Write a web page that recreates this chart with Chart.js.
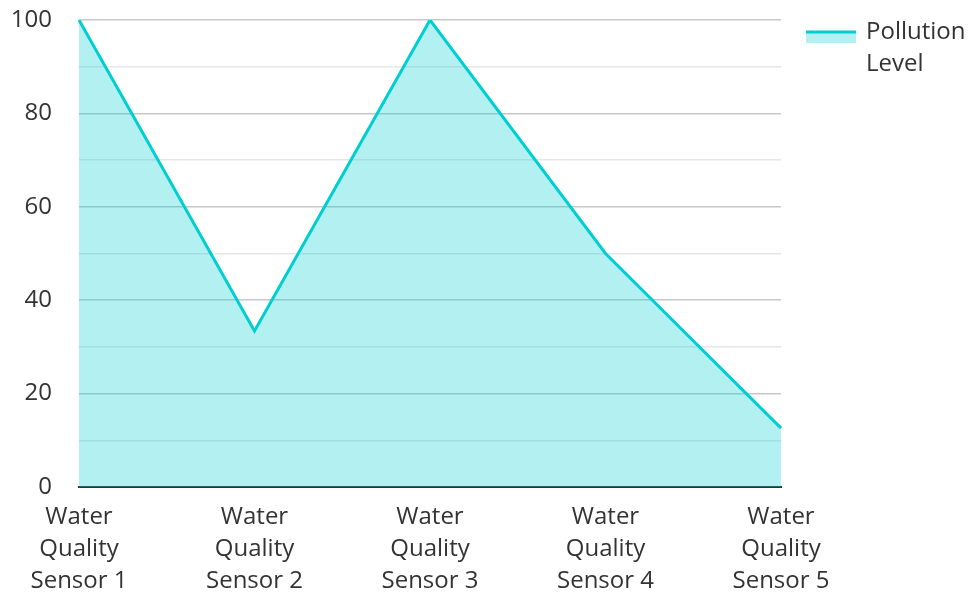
<!DOCTYPE html>
<html>
<head>
<meta charset="utf-8">
<script src="https://cdn.jsdelivr.net/npm/chart.js@4/dist/chart.umd.min.js"></script>
<style>
  html, body { margin: 0; padding: 0; background: #fff; }
  #wrap { width: 971px; height: 592px; position: relative; }
</style>
</head>
<body>
<div id="wrap"><canvas id="c"></canvas></div>
<script>
// Sensor readings
const categories = [
  ['Water', 'Quality', 'Sensor 1'],
  ['Water', 'Quality', 'Sensor 2'],
  ['Water', 'Quality', 'Sensor 3'],
  ['Water', 'Quality', 'Sensor 4'],
  ['Water', 'Quality', 'Sensor 5']
];
const seriesName = ['Pollution', 'Level'];
const pollutionLevel = [100, 33.4, 100, 50, 12.6];
const yTicks = [0, 20, 40, 60, 80, 100];

const LINE = '#00ced1';
const FILL = 'rgba(0, 206, 209, 0.3)';
const TEXT = '#333333';
const FONT = { family: '"Open Sans", sans-serif', size: 24, lineHeight: 32 / 24 };

// Legend drawn at the right of the plot, label wrapped over two lines
const sideLegend = {
  id: 'sideLegend',
  afterDraw(chart) {
    const ctx = chart.ctx;
    const x = chart.chartArea.right + 25;
    const y = 32;
    ctx.save();
    ctx.fillStyle = FILL;
    ctx.fillRect(x, y, 50, 11);
    ctx.strokeStyle = LINE;
    ctx.lineWidth = 3;
    ctx.beginPath();
    ctx.moveTo(x, y);
    ctx.lineTo(x + 50, y);
    ctx.stroke();
    ctx.fillStyle = TEXT;
    ctx.font = `${FONT.size}px ${FONT.family}`;
    ctx.textBaseline = 'middle';
    ctx.textAlign = 'left';
    seriesName.forEach((t, i) => ctx.fillText(t, x + 60, y + i * 32));
    ctx.restore();
  }
};

new Chart(document.getElementById('c'), {
  type: 'line',
  data: {
    labels: categories,
    datasets: [{
      label: seriesName.join(' '),
      data: pollutionLevel,
      borderColor: LINE,
      backgroundColor: FILL,
      borderWidth: 3,
      fill: 'origin',
      tension: 0,
      pointRadius: 0,
      pointHoverRadius: 0
    }]
  },
  options: {
    responsive: true,
    maintainAspectRatio: false,
    animation: false,
    layout: { padding: { left: 0, right: 190, top: 20, bottom: 0 } },
    plugins: {
      legend: { display: false },
      tooltip: { enabled: false }
    },
    scales: {
      x: {
        offset: false,
        grid: { display: false, drawTicks: false },
        border: { display: true, color: '#333333', width: 2 },
        ticks: {
          color: TEXT,
          font: FONT,
          padding: 14,
          maxRotation: 0,
          autoSkip: false
        },
        afterFit(scale) { scale.height = 105; }
      },
      y: {
        min: 0,
        max: 100,
        grid: {
          drawTicks: false,
          color: ctx => (ctx.tick && ctx.tick.value % 20 === 0) ? '#c8c8c8' : '#e6e6e6',
          lineWidth: 1.5
        },
        border: { display: false },
        ticks: {
          stepSize: 10,
          color: TEXT,
          font: FONT,
          padding: 27,
          callback: v => yTicks.includes(v) ? String(v) : ''
        },
        afterFit(scale) {
          scale.width = 79;
          scale.paddingTop = 0;
          scale.paddingBottom = 0;
        }
      }
    }
  },
  plugins: [sideLegend]
});
</script>
</body>
</html>
